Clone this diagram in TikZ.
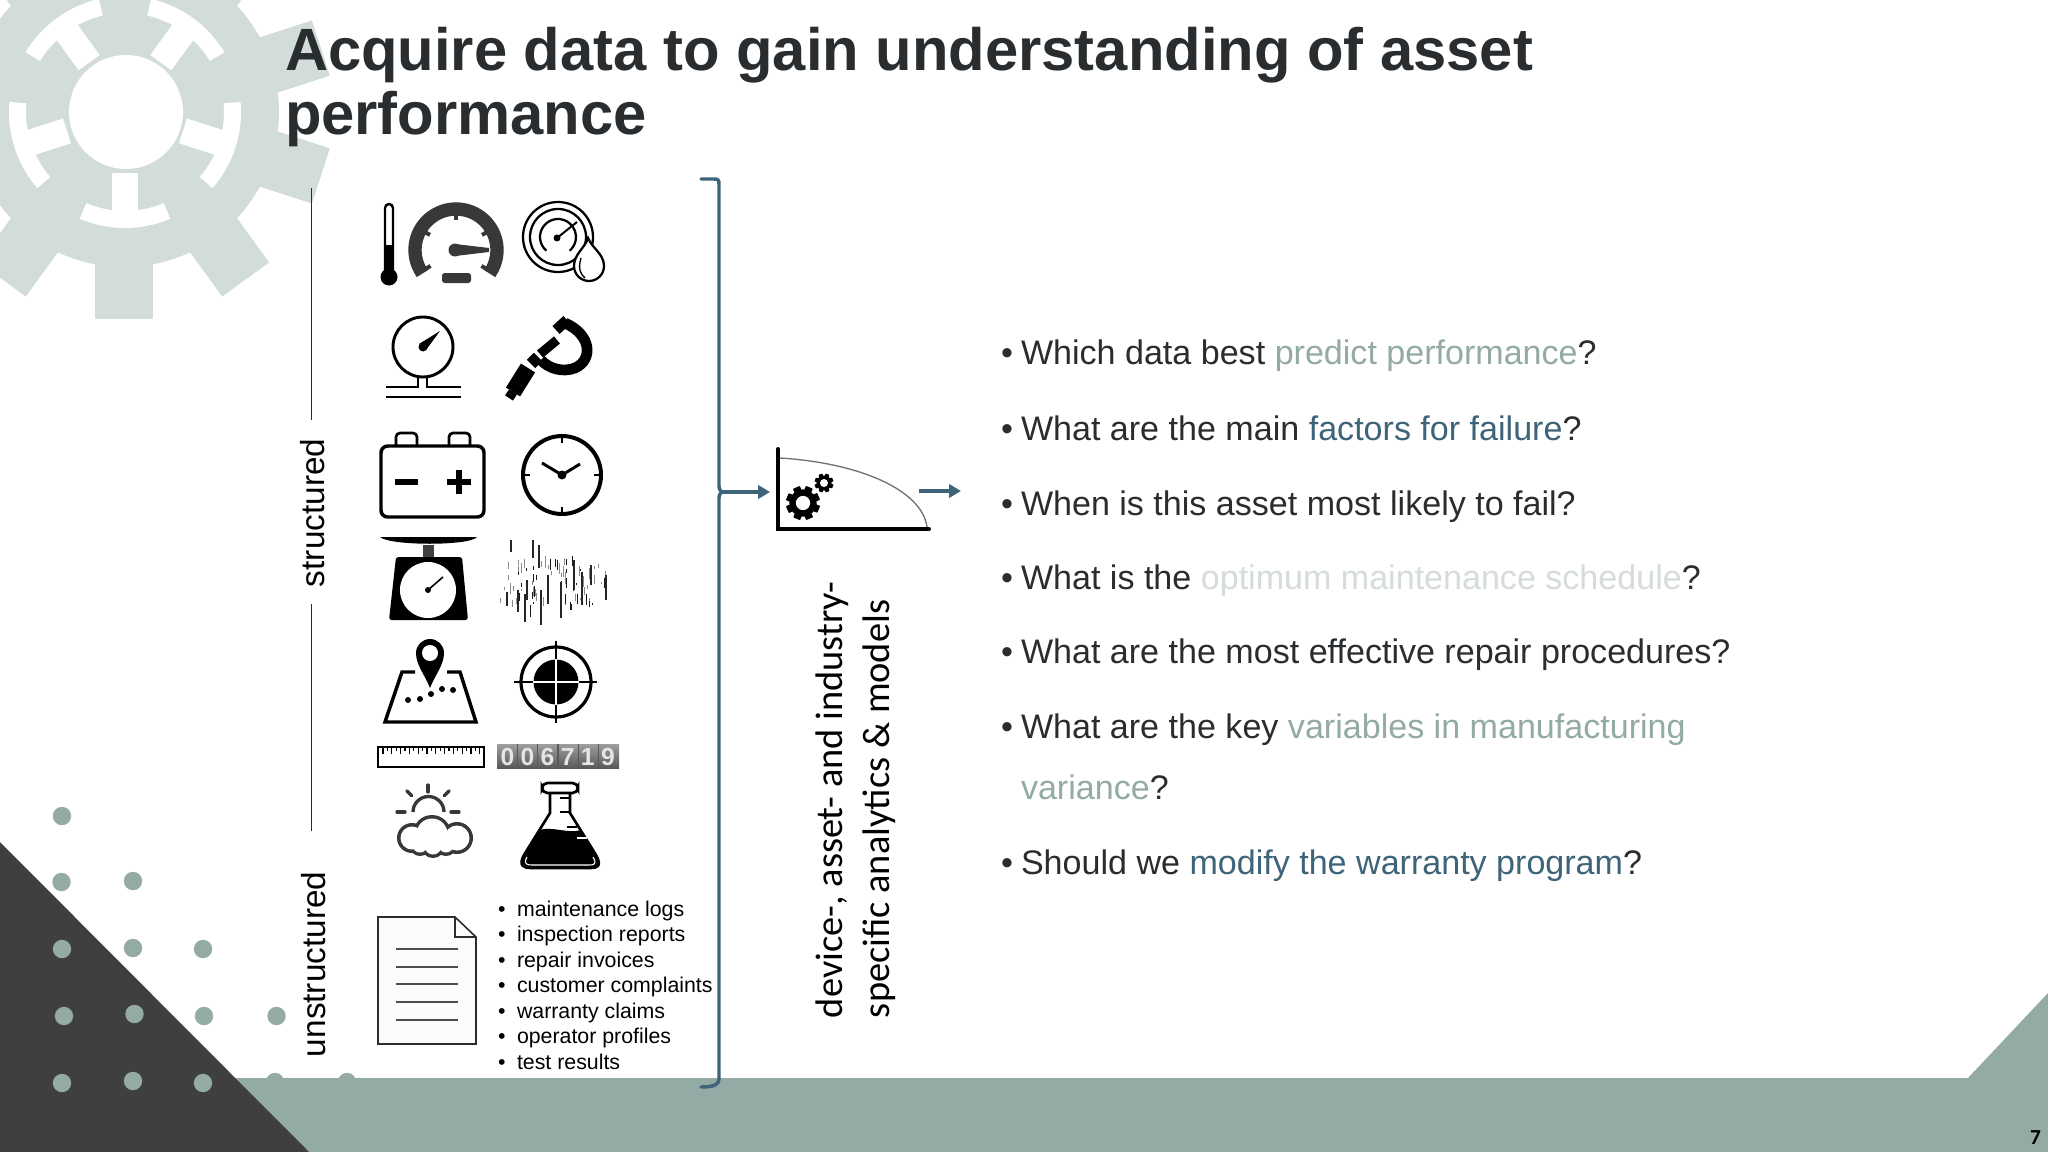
\documentclass[tikz,border=0pt]{standalone}
\usepackage{fontspec}
\setmainfont{Liberation Sans}
\newfontfamily\carl{Carlito}
\usetikzlibrary{arrows.meta}
\definecolor{sage}{HTML}{93ABA4}
\definecolor{gearc}{HTML}{D2DCD8}
\definecolor{darkt}{HTML}{3F3E40}
\definecolor{ink}{HTML}{2A2D2F}
\definecolor{teal}{HTML}{3D6478}
\definecolor{pale}{HTML}{D5DCDB}
\definecolor{iconc}{HTML}{383838}
\tikzset{
  txt/.style={inner sep=0pt,outer sep=0pt,anchor=base west,text=ink},
  body/.style={txt,font=\fontsize{25.55pt}{25.55pt}\selectfont},
  titletxt/.style={txt,font=\fontsize{44.8pt}{44.8pt}\selectfont\bfseries},
  listtxt/.style={txt,text=black,font=\fontsize{16pt}{16pt}\selectfont},
  side/.style={txt,text=black,rotate=90,font=\fontsize{25pt}{25pt}\selectfont},
  modeltxt/.style={txt,text=black,rotate=90,font=\carl\fontsize{28.8pt}{28.8pt}\selectfont},
  bracket/.style={draw=teal,line width=2.6pt,line cap=round},
  flow/.style={draw=teal,line width=2.4pt,-{Triangle[length=9pt,width=10pt]}},
  ic/.style={draw=black,line width=2pt},
  ict/.style={draw=black,line width=2.6pt},
}
\newcommand{\cogicon}[3]{% x y R
  \fill[black] (#1,#2) circle[radius=#3*0.8];
  \foreach \aa in {0,45,...,315}{
    \begin{scope}[shift={(#1,#2)},rotate=\aa+22]
      \fill[black,rounded corners=0.5pt] (#3*0.7,-#3*0.22) rectangle (#3,#3*0.22);
    \end{scope}}
  \fill[white] (#1,#2) circle[radius=#3*0.42];
}
\begin{document}
\begin{tikzpicture}[x=0.75pt,y=0.75pt,yscale=-1]
\useasboundingbox (0,0) rectangle (2048,1152);
\clip (0,0) rectangle (2048,1152);
\fill[white] (0,0) rectangle (2048,1152);
% cog watermark
\fill[gearc] (124,112) circle[radius=155];
\foreach \a in {0,36,...,324}{
  \begin{scope}[shift={(124,112)},rotate=\a+18]
    \fill[gearc] (145,-29) rectangle (207,29);
  \end{scope}}
\fill[white] (126,112) circle[radius=57];
\foreach \a in {90,18,-54,-126,162}{
  \begin{scope}[shift={(125,112)},rotate=\a]
    \fill[white] (61,-13) rectangle (102,13);
    \fill[white] (-23:99) arc[start angle=-23,end angle=23,radius=99] -- (23:116) arc[start angle=23,end angle=-23,radius=116] -- cycle;
  \end{scope}}
% band and triangles
\fill[sage] (0,1078) -- (1968,1078) -- (2048,993) -- (2048,1152) -- (0,1152) -- cycle;
\fill[darkt] (0,842) -- (309,1152) -- (0,1152) -- cycle;
\foreach \px/\py in {62/816,61.5/882,133/881,62/949,133/948,203/949,64/1016,134.5/1014,204/1016,276.5/1016,62/1083,133/1081,203/1083,275/1082,347/1082}{
  \fill[sage] (\px,\py) circle[radius=9.2];}
% title
\node[titletxt] (title1) at (285,71) {Acquire data to gain understanding of asset};
\node[titletxt] (title2) at (285,135) {performance};
% side labels
\draw[ink,line width=0.75pt] (311,188) -- (311,420);
\draw[ink,line width=0.75pt] (311,604) -- (311,831);
\node[side] (structured) at (324,587) {structured};
\node[side] (unstructured) at (325.5,1057) {unstructured};
% thermometer
\draw[black,line width=1.8pt,fill=white,rounded corners=3pt] (385,204) rectangle (393,275);
\fill[black] (385,245) rectangle (393,275);
\fill[black] (389,277) circle[radius=8.5];
% speedometer
\draw[iconc,line width=10pt] (456,250) ++(145:41) arc[start angle=145,end angle=395,radius=41];
\foreach \a in {148,210,270,330,392}{\draw[iconc,line width=3pt] (456,250) ++(\a:38) -- ++(\a:-8);}
\fill[iconc] (455,250) circle[radius=6.5];
\fill[iconc] (455,244) -- (489,248) -- (489,252) -- (455,256) -- cycle;
\fill[iconc,rounded corners=2pt] (442,273) rectangle (471,283);
% gauge with drop
\draw[ic,line width=1.7pt] (558,237) circle[radius=35];
\draw[ic,line width=1.7pt] (558,237) circle[radius=28];
\draw[ic,line width=1.7pt] (558,237) ++(130:18) arc[start angle=130,end angle=410,radius=18];
\fill[black] (557,238) circle[radius=3.5];
\draw[black,line width=1.5pt] (557,238) -- (577,222);
\draw[ic,line width=1.7pt,fill=white] (588,238) .. controls (592,248) and (604,254) .. (604,266) arc[start angle=0,end angle=180,radius=15] .. controls (574,254) and (585,248) .. (588,238) -- cycle;
\draw[black,line width=1pt] (581,258) .. controls (578,268) and (580,274) .. (585,278);
% pressure gauge
\draw[ic,line width=2.2pt] (423,347) circle[radius=30];
\fill[black] (423,347) circle[radius=4.5];
\fill[black] (419,344) -- (440,331) -- (426,350) -- cycle;
\draw[ic] (386,387) -- (418,387) -- (418,376);
\draw[ic] (461,387) -- (427,387) -- (427,376);
\draw[ic] (386,397) -- (461,397);
% micrometer
\draw[black,line width=8pt] (565,323) .. controls (592,335) and (593,360) .. (575,368) .. controls (562,373) and (548,368) .. (541,360);
\draw[black,line width=7pt] (540,354) -- (557,340);
\draw[black,line width=8pt] (556,330) -- (567,320);
\draw[black,line width=9pt] (538,357) -- (531,364);
\draw[black,line width=12.5pt] (528,368) -- (513,392);
\draw[black,line width=7pt] (513,392) -- (509,398);
% battery
\draw[ict,rounded corners=5pt] (381,446) rectangle (484,517);
\draw[ic,rounded corners=3pt] (396,446) -- (396,433) -- (417,433) -- (417,446);
\draw[ic,rounded corners=3pt] (449,446) -- (449,433) -- (470,433) -- (470,446);
\draw[black,line width=3.8pt] (395,482) -- (418,482);
\draw[black,line width=3.8pt] (447,482) -- (471,482);
\draw[black,line width=3.8pt] (459,470) -- (459,494);
% clock
\draw[black,line width=3pt] (562,475) circle[radius=39];
\foreach \a in {0,90,180,270}{\draw[black,line width=2pt] (562,475) ++(\a:38) -- ++(\a:-6);}
\draw[black,line width=2.2pt] (542,463) -- (562,475) -- (580,464);
\fill[black] (562,475) circle[radius=4.5];
% scale
\fill[black] (380,537) -- (477,537) .. controls (470,546) and (390,546) .. (380,537) -- cycle;
\fill[black!75] (423,545) rectangle (434,557);
\fill[black,rounded corners=2pt] (396,557) -- (462,557) -- (468,620) -- (389,620) -- cycle;
\fill[white] (428,590) circle[radius=28];
\fill[black] (428,590) circle[radius=3];
\draw[black,line width=1.2pt] (428,590) -- (443,577);
% noise
\pgfmathsetseed{11}
\foreach \i in {1,...,75}{
  \pgfmathsetmacro{\nx}{500+108*rnd}
  \pgfmathsetmacro{\ny}{585+(rnd-0.5)*(60-0.4*abs(\nx-545))}
  \pgfmathsetmacro{\nl}{2+rnd*10}
  \pgfmathsetmacro{\ng}{rnd>0.55?90:45}
  \draw[black!\ng,line width=0.7pt] (\nx,\ny-\nl/2) -- (\nx,\ny+\nl/2);
}
\foreach \px/\pa/\pb in {511/540/552,533/540/558,539/545/568,507/592/606,518/590/612,525/594/622,527/580/600,541/590/625,548/575/604,561/582/618,574/560/590,582/572/605,591/565/585,606/575/600}{
  \draw[black!85,line width=0.8pt] (\px,\pa) -- (\px,\pb);}
% map
\draw[ict,line join=miter] (415,672) -- (402,672) -- (385,722) -- (476,722) -- (460,672) -- (447,672);
\fill[black] (430,688) .. controls (425,675) and (416,665) .. (416,653) arc[start angle=180,end angle=360,radius=14] .. controls (444,665) and (435,675) .. (430,688) -- cycle;
\fill[white] (430,653) circle[radius=8];
\foreach \px/\py in {408/700,420/699,431/694,442/689,453/690}{\fill[black] (\px,\py) circle[radius=3];}
% target
\draw[black,line width=2.4pt] (556,682) circle[radius=35];
\draw[black,line width=2pt] (514,682) -- (597,682);
\draw[black,line width=2pt] (556,641) -- (556,723);
\fill[black] (556,682) circle[radius=22.5];
\draw[white,line width=1.4pt] (533,682) -- (579,682);
\draw[white,line width=1.4pt] (556,659) -- (556,705);
% ruler
\draw[black,line width=1.6pt] (378,747) rectangle (484,767);
\foreach \i [evaluate=\i as \rx using 383+\i*4.4, evaluate=\i as \rl using {mod(\i,2)==0?754:751}] in {0,...,22}{
  \draw[black,line width=0.8pt] (\rx,748) -- (\rx,\rl);}
% counter
\shade[top color=black!38,bottom color=black!65] (497,744) rectangle (619,768);
\foreach \i in {1,...,5}{\fill[black!65] (497+\i*20.3-0.7,744) rectangle (497+\i*20.3+0.7,768);}
\node[txt,text=white!90!black,font=\fontsize{18.5pt}{18.5pt}\selectfont\bfseries] (counter) at (500.5,765) {0\kern4.8pt0\kern4.8pt6\kern4.8pt7\kern4.8pt1\kern4.8pt9};
% weather
\draw[iconc,line width=2.5pt] (413,812) arc[start angle=180,end angle=360,radius=15.5];
\foreach \a/\ri/\ro in {270/20/27,225/23/30,315/23/30,180/23/31,0/23/31}{
  \draw[iconc,line width=2.5pt,line cap=round] (428,812) ++(\a:\ri) -- ++(\a:\ro-\ri);}
\foreach \px/\py/\pr in {412/838/15,432/834/19,457/838/16,433/846/12,420/845/11,446/845/11}{
  \fill[iconc] (\px,\py) circle[radius=\pr];}
\foreach \px/\py/\pr in {412/838/11.5,432/834/15.5,457/838/12.5,433/846/8.5,420/845/7.5,446/845/7.5}{
  \fill[white] (\px,\py) circle[radius=\pr];}
% flask
\draw[ic,fill=white] (550,793) -- (550,813) -- (524,855) .. controls (518,866) and (524,868) .. (531,868) -- (589,868) .. controls (598,868) and (602,866) .. (596,855) -- (570,813) -- (570,793);
\draw[ic,fill=white,rounded corners=4pt] (542,783) rectangle (578,793);
\fill[black] (539,830) .. controls (553,826) and (568,834) .. (581,830) -- (596,855) .. controls (602,866) and (598,868) .. (589,868) -- (531,868) .. controls (524,868) and (518,866) .. (524,855) -- cycle;
\draw[white,line width=0.8pt] (527,857) .. controls (523,864) and (527,865) .. (532,865) -- (588,865) .. controls (595,865) and (597,864) .. (593,857);
\draw[black,line width=1.2pt] (560,798) -- (570,798);
\draw[black,line width=1.2pt] (560,812) -- (570,812);
\draw[black,line width=1.2pt] (567,827) -- (577,827);
\draw[white,line width=1.2pt] (577,838) -- (587,838);
% document
\draw[ink,line width=1.2pt,fill=white!97!gray] (378,917) -- (455,917) -- (476,937) -- (476,1044) -- (378,1044) -- cycle;
\draw[ink,line width=1pt] (455,917) -- (455,937) -- (476,937);
\foreach \py in {949,967,984,1002,1020}{\draw[ink!85,line width=1pt] (396,\py) -- (458,\py);}
% list
\foreach \t/\py in {maintenance logs/916,inspection reports/941,repair invoices/967,customer complaints/992,warranty claims/1018,operator profiles/1043,test results/1069}{
  \node[listtxt] (b\py) at (498,\py) {•};
  \node[listtxt] (l\py) at (517,\py) {\t};}
% bracket
\coordinate (brktop) at (701,179);
\coordinate (brkbot) at (701,1087);
\coordinate (brkmid) at (722,492);
\coordinate (modelin) at (770,492);
\coordinate (modelout) at (919,491);
\coordinate (modelend) at (961,491);
\draw[bracket] (brktop) -- (714,179) .. controls (718,179) and (719,180) .. (719,184) -- (719,486) .. controls (719,490) and (721,491) .. (brkmid) .. controls (721,493) and (719,494) .. (719,498) -- (719,1079) .. controls (719,1084) and (715,1087) .. (brkbot);
\draw[flow] (brkmid) -- (modelin);
\draw[flow] (modelout) -- (modelend);
% model chart
\draw[black,line width=3pt,line cap=round] (778,449) -- (778,529) -- (929,529);
\draw[black!55,line width=1pt] (780,458) .. controls (860,463) and (922,490) .. (927,527);
\cogicon{803}{503}{17}
\cogicon{824}{483}{9.5}
% rotated text
\node[modeltxt] (model1) at (842,1018) {device-, asset- and industry-};
\node[modeltxt] (model2) at (889,1018) {specific analytics \& models};
% questions
\foreach \qy in {364.5,440.5,515.5,589.5,663.5,738.5,874.5}{\node[body] (bul\qy) at (1001,\qy) {•};}
\node[body] (q1) at (1021,364.5) {Which data best \textcolor{sage}{predict performance}?};
\node[body] (q2) at (1021,440.5) {What are the main \textcolor{teal}{factors for failure}?};
\node[body] (q3) at (1021,515.5) {When is this asset most likely to fail?};
\node[body] (q4) at (1021,589.5) {What is the \textcolor{pale}{optimum maintenance schedule}?};
\node[body] (q5) at (1021,663.5) {What are the most effective repair procedures?};
\node[body] (q6) at (1021,738.5) {What are the key \textcolor{sage}{variables in manufacturing}};
\node[body] (q6b) at (1021,799.5) {\textcolor{sage}{variance}?};
\node[body] (q7) at (1021,874.5) {Should we \textcolor{teal}{modify the warranty program}?};
% page number
\node[txt,text=black,font=\carl\bfseries\fontsize{16pt}{16pt}\selectfont] (pg) at (2030,1144) {7};
\end{tikzpicture}
\end{document}
